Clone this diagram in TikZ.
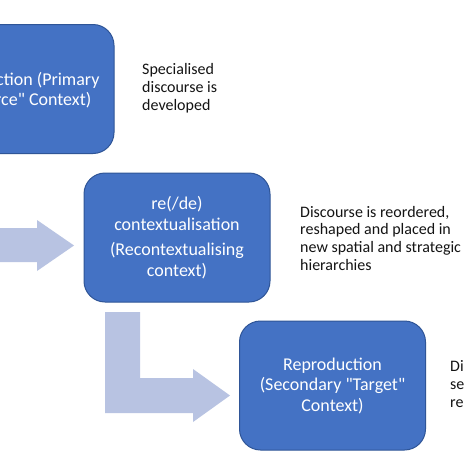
\documentclass[tikz,border=0pt]{standalone}
\usepackage{fontspec}
\setmainfont{Carlito}
\definecolor{boxblue}{RGB}{68,114,196}
\definecolor{boxline}{RGB}{47,85,151}
\definecolor{arrowfill}{RGB}{184,195,226}
\definecolor{txt}{RGB}{20,20,20}
\tikzset{
  stagebox/.style={draw=boxline, line width=1pt, fill=boxblue, rounded corners=21pt,
    minimum width=186pt, minimum height=129pt, inner sep=0pt},
  boxtext/.style={text=white, align=center, font=\fontsize{18}{20.5}\selectfont},
  notetext/.style={text=txt, align=left, anchor=base west, inner sep=0pt,
    font=\fontsize{16}{17.6}\selectfont},
  blockarrow/.style={fill=arrowfill, draw=none}
}
\begin{document}
\begin{tikzpicture}[x=1pt,y=-1pt]
\useasboundingbox (0,0) rectangle (474,474);
\clip (0,0) rectangle (474,474);
\fill[white] (0,0) rectangle (474,474);
% block arrows
\fill[blockarrow] (-5,228) -- (37,228) -- (37,220) -- (74,245.5) -- (37,271) -- (37,262) -- (-5,262) -- cycle;
\fill[blockarrow] (105,312) -- (140,312) -- (140,378) -- (193,378) -- (193,369) -- (230,395.5) -- (193,422) -- (193,413) -- (105,413) -- cycle;
% boxes
\node[stagebox] (b1) at (21,89) {};
\node[stagebox] (b2) at (177,237.5) {};
\node[stagebox] (b3) at (332.5,385.5) {};
\node[boxtext] (t1) at (26,90) {Production (Primary\\\textquotedbl Source\textquotedbl{} Context)};
\node[boxtext] (t2) at (b2.center) {re(/de)\\contextualisation\\[5pt](Recontextualising\\context)};
\node[boxtext] (t3) at (b3.center) {Reproduction\\(Secondary \textquotedbl Target\textquotedbl\\Context)};
% notes
\node[notetext] (n1) at (142,110) {Specialised\\discourse is\\developed};
\node[notetext] (n2) at (300,270) {Discourse is reordered,\\reshaped and placed in\\new spatial and strategic\\hierarchies};
\node[notetext] (n3) at (450,407) {Di\\se\\re};
\end{tikzpicture}
\end{document}
